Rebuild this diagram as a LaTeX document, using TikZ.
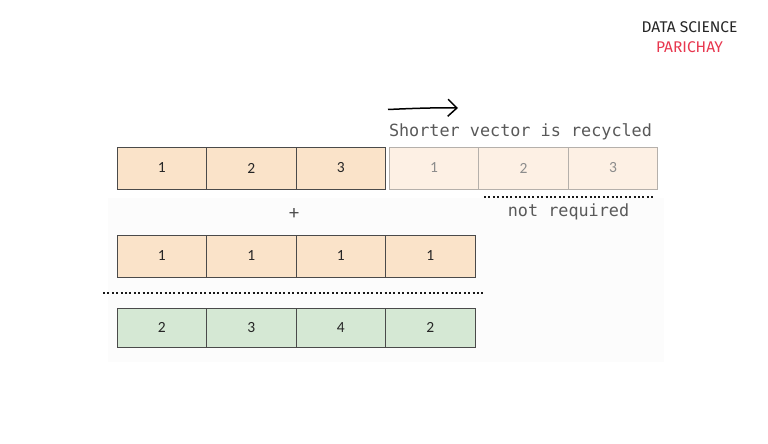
\documentclass[tikz,border=0pt]{standalone}
\usepackage{fontspec}
\setmainfont{Carlito}
\newfontfamily\monofont{DejaVu Sans Mono}
\newfontfamily\brandfont{Fira Sans}
\usetikzlibrary{arrows.meta}
\definecolor{peach}{HTML}{FAE3C9}
\definecolor{paleach}{HTML}{FDF0E4}
\definecolor{mint}{HTML}{D5E8D4}
\definecolor{edge}{HTML}{4A4A4A}
\definecolor{fadeedge}{HTML}{B5B0AB}
\definecolor{brandred}{HTML}{E8374F}
\definecolor{bgpanel}{HTML}{FCFCFC}
\tikzset{
  cell/.style={rectangle, draw=edge, line width=1pt, minimum width=89.5pt, minimum height=42pt, inner sep=0pt, font=\fontsize{15.5}{15.5}\selectfont, text=black!85},
  orangecell/.style={cell, fill=peach},
  fadecell/.style={cell, fill=paleach, draw=fadeedge, text=black!45},
  greencell/.style={cell, fill=mint, minimum height=39pt},
  monolabel/.style={font=\monofont\fontsize{16.8}{16.8}\selectfont, text=black!65, inner sep=0pt},
  dotline/.style={line width=2pt, dash pattern=on 2pt off 2.4pt, black!90}
}
\begin{document}
\begin{tikzpicture}[x=1pt,y=-1pt]
\useasboundingbox[fill=white] (0,0) rectangle (768,444);
\fill[bgpanel] (108,198) rectangle (664,362);
% brand
\node[font=\brandfont\fontsize{15.5}{15.5}\selectfont, text=black!85, inner sep=0pt] (brand1) at (689.5,27) {DATA SCIENCE};
\node[font=\brandfont\fontsize{15.5}{15.5}\selectfont, text=brandred, inner sep=0pt] (brand2) at (689.5,47) {PARICHAY};
% row 1
\node[orangecell] (a1) at (161.75,168) {1};
\node[orangecell] (a2) at (251.25,168) {2};
\node[orangecell] (a3) at (340.75,168) {3};
\node[fadecell] (f1) at (434,168) {1};
\node[fadecell] (f2) at (523.5,168) {2};
\node[fadecell] (f3) at (613,168) {3};
% arrow and caption
\coordinate (arS) at (388,109.5);
\coordinate (arE) at (458,108);
\draw[line width=1.5pt, -{Straight Barb[length=9pt,width=17pt,line width=1.5pt]}] (arS) .. controls (410,108.5) and (435,107.5) .. (arE);
\node[monolabel] (recyc) at (520.5,132) {Shorter vector is recycled};
% not required
\coordinate (nr1) at (484,197);
\coordinate (nr2) at (653,197);
\draw[dotline] (nr1) -- (nr2);
\node[monolabel] (notreq) at (568.5,212) {not required};
% plus
\node[font=\fontsize{20}{20}\selectfont, text=black!70, inner sep=0pt] (plus) at (294,214) {+};
% row 2
\node[orangecell] (b1) at (161.75,256) {1};
\node[orangecell] (b2) at (251.25,256) {1};
\node[orangecell] (b3) at (340.75,256) {1};
\node[orangecell] (b4) at (430.25,256) {1};
% dotted rule
\coordinate (d1) at (103,292.5);
\coordinate (d2) at (484,292.5);
\draw[dotline] (d1) -- (d2);
% row 3
\node[greencell] (c1) at (161.75,327.5) {2};
\node[greencell] (c2) at (251.25,327.5) {3};
\node[greencell] (c3) at (340.75,327.5) {4};
\node[greencell] (c4) at (430.25,327.5) {2};
\end{tikzpicture}
\end{document}
